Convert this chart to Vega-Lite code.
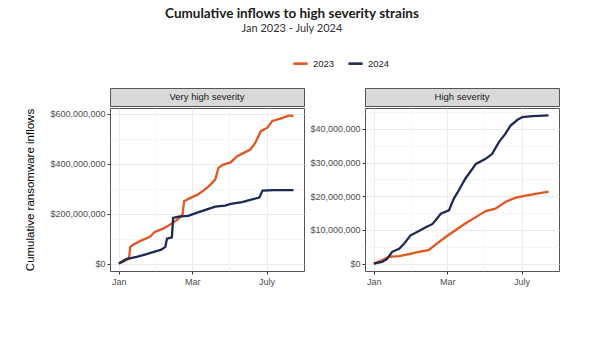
{
  "$schema": "https://vega.github.io/schema/vega-lite/v6.json",
  "padding": {"left": 24, "top": 6, "right": 5, "bottom": 5},
  "background": "white",
  "title": {
    "text": "Cumulative inflows to high severity strains",
    "subtitle": "Jan 2023 - July 2024",
    "anchor": "middle",
    "font": "Lato",
    "fontSize": 13.5,
    "fontWeight": "bold",
    "color": "#1a1a1a",
    "subtitleFont": "Lato",
    "subtitleFontSize": 11,
    "subtitleColor": "#333333",
    "subtitlePadding": 3,
    "offset": 21
  },
  "datasets": {
    "series": [
      {"panel": "Very high severity", "year": "2023", "day": 0, "value": 0},
      {"panel": "Very high severity", "year": "2023", "day": 9, "value": 13000000},
      {"panel": "Very high severity", "year": "2023", "day": 12.5, "value": 20000000},
      {"panel": "Very high severity", "year": "2023", "day": 14, "value": 67000000},
      {"panel": "Very high severity", "year": "2023", "day": 18, "value": 76000000},
      {"panel": "Very high severity", "year": "2023", "day": 26, "value": 90000000},
      {"panel": "Very high severity", "year": "2023", "day": 38, "value": 107000000},
      {"panel": "Very high severity", "year": "2023", "day": 44, "value": 127000000},
      {"panel": "Very high severity", "year": "2023", "day": 55, "value": 141000000},
      {"panel": "Very high severity", "year": "2023", "day": 65, "value": 161000000},
      {"panel": "Very high severity", "year": "2023", "day": 71, "value": 174000000},
      {"panel": "Very high severity", "year": "2023", "day": 78, "value": 195000000},
      {"panel": "Very high severity", "year": "2023", "day": 80, "value": 250000000},
      {"panel": "Very high severity", "year": "2023", "day": 87, "value": 262000000},
      {"panel": "Very high severity", "year": "2023", "day": 96, "value": 275000000},
      {"panel": "Very high severity", "year": "2023", "day": 104, "value": 293000000},
      {"panel": "Very high severity", "year": "2023", "day": 112, "value": 315000000},
      {"panel": "Very high severity", "year": "2023", "day": 118, "value": 336000000},
      {"panel": "Very high severity", "year": "2023", "day": 122, "value": 383000000},
      {"panel": "Very high severity", "year": "2023", "day": 128, "value": 396000000},
      {"panel": "Very high severity", "year": "2023", "day": 137, "value": 405000000},
      {"panel": "Very high severity", "year": "2023", "day": 145, "value": 430000000},
      {"panel": "Very high severity", "year": "2023", "day": 155, "value": 446000000},
      {"panel": "Very high severity", "year": "2023", "day": 161, "value": 456000000},
      {"panel": "Very high severity", "year": "2023", "day": 167, "value": 483000000},
      {"panel": "Very high severity", "year": "2023", "day": 174, "value": 530000000},
      {"panel": "Very high severity", "year": "2023", "day": 182, "value": 544000000},
      {"panel": "Very high severity", "year": "2023", "day": 188, "value": 571000000},
      {"panel": "Very high severity", "year": "2023", "day": 198, "value": 580000000},
      {"panel": "Very high severity", "year": "2023", "day": 209, "value": 593000000},
      {"panel": "Very high severity", "year": "2023", "day": 214, "value": 590000000},
      {"panel": "Very high severity", "year": "2024", "day": 0, "value": 0},
      {"panel": "Very high severity", "year": "2024", "day": 9, "value": 18000000},
      {"panel": "Very high severity", "year": "2024", "day": 22, "value": 27000000},
      {"panel": "Very high severity", "year": "2024", "day": 34, "value": 38000000},
      {"panel": "Very high severity", "year": "2024", "day": 46, "value": 50000000},
      {"panel": "Very high severity", "year": "2024", "day": 52, "value": 56000000},
      {"panel": "Very high severity", "year": "2024", "day": 57, "value": 67000000},
      {"panel": "Very high severity", "year": "2024", "day": 59, "value": 100000000},
      {"panel": "Very high severity", "year": "2024", "day": 65, "value": 105000000},
      {"panel": "Very high severity", "year": "2024", "day": 66.5, "value": 183000000},
      {"panel": "Very high severity", "year": "2024", "day": 73, "value": 188000000},
      {"panel": "Very high severity", "year": "2024", "day": 85, "value": 191000000},
      {"panel": "Very high severity", "year": "2024", "day": 96, "value": 204000000},
      {"panel": "Very high severity", "year": "2024", "day": 108, "value": 217000000},
      {"panel": "Very high severity", "year": "2024", "day": 118, "value": 228000000},
      {"panel": "Very high severity", "year": "2024", "day": 130, "value": 232000000},
      {"panel": "Very high severity", "year": "2024", "day": 137, "value": 239000000},
      {"panel": "Very high severity", "year": "2024", "day": 151, "value": 246000000},
      {"panel": "Very high severity", "year": "2024", "day": 161, "value": 255000000},
      {"panel": "Very high severity", "year": "2024", "day": 172, "value": 264000000},
      {"panel": "Very high severity", "year": "2024", "day": 176, "value": 292000000},
      {"panel": "Very high severity", "year": "2024", "day": 190, "value": 294000000},
      {"panel": "Very high severity", "year": "2024", "day": 214, "value": 294000000},
      {"panel": "High severity", "year": "2023", "day": 0, "value": 0},
      {"panel": "High severity", "year": "2023", "day": 10, "value": 1000000},
      {"panel": "High severity", "year": "2023", "day": 18, "value": 2000000},
      {"panel": "High severity", "year": "2023", "day": 31, "value": 2200000},
      {"panel": "High severity", "year": "2023", "day": 43, "value": 2800000},
      {"panel": "High severity", "year": "2023", "day": 55, "value": 3500000},
      {"panel": "High severity", "year": "2023", "day": 67, "value": 4000000},
      {"panel": "High severity", "year": "2023", "day": 76, "value": 5700000},
      {"panel": "High severity", "year": "2023", "day": 88, "value": 7900000},
      {"panel": "High severity", "year": "2023", "day": 100, "value": 9900000},
      {"panel": "High severity", "year": "2023", "day": 112, "value": 11900000},
      {"panel": "High severity", "year": "2023", "day": 125, "value": 13800000},
      {"panel": "High severity", "year": "2023", "day": 137, "value": 15600000},
      {"panel": "High severity", "year": "2023", "day": 149, "value": 16300000},
      {"panel": "High severity", "year": "2023", "day": 161, "value": 18300000},
      {"panel": "High severity", "year": "2023", "day": 174, "value": 19600000},
      {"panel": "High severity", "year": "2023", "day": 186, "value": 20200000},
      {"panel": "High severity", "year": "2023", "day": 198, "value": 20700000},
      {"panel": "High severity", "year": "2023", "day": 214, "value": 21400000},
      {"panel": "High severity", "year": "2024", "day": 0, "value": 0},
      {"panel": "High severity", "year": "2024", "day": 10, "value": 500000},
      {"panel": "High severity", "year": "2024", "day": 16, "value": 1300000},
      {"panel": "High severity", "year": "2024", "day": 22.5, "value": 3500000},
      {"panel": "High severity", "year": "2024", "day": 31, "value": 4400000},
      {"panel": "High severity", "year": "2024", "day": 37, "value": 5900000},
      {"panel": "High severity", "year": "2024", "day": 45, "value": 8400000},
      {"panel": "High severity", "year": "2024", "day": 53, "value": 9400000},
      {"panel": "High severity", "year": "2024", "day": 63, "value": 10700000},
      {"panel": "High severity", "year": "2024", "day": 71.5, "value": 11700000},
      {"panel": "High severity", "year": "2024", "day": 75.5, "value": 12800000},
      {"panel": "High severity", "year": "2024", "day": 82, "value": 14800000},
      {"panel": "High severity", "year": "2024", "day": 92, "value": 15800000},
      {"panel": "High severity", "year": "2024", "day": 98, "value": 19300000},
      {"panel": "High severity", "year": "2024", "day": 104, "value": 21700000},
      {"panel": "High severity", "year": "2024", "day": 112, "value": 25200000},
      {"panel": "High severity", "year": "2024", "day": 118, "value": 27200000},
      {"panel": "High severity", "year": "2024", "day": 125, "value": 29600000},
      {"panel": "High severity", "year": "2024", "day": 137, "value": 31100000},
      {"panel": "High severity", "year": "2024", "day": 145, "value": 32600000},
      {"panel": "High severity", "year": "2024", "day": 153, "value": 36000000},
      {"panel": "High severity", "year": "2024", "day": 161, "value": 38500000},
      {"panel": "High severity", "year": "2024", "day": 167.5, "value": 41000000},
      {"panel": "High severity", "year": "2024", "day": 176, "value": 42700000},
      {"panel": "High severity", "year": "2024", "day": 182, "value": 43500000},
      {"panel": "High severity", "year": "2024", "day": 194, "value": 43800000},
      {"panel": "High severity", "year": "2024", "day": 214, "value": 44000000}
    ],
    "strips": [
      {"panel": "Very high severity"},
      {"panel": "High severity"}
    ]
  },
  "spacing": 4,
  "hconcat": [
    {
      "spacing": 0,
      "vconcat": [
        {
          "width": 194,
          "height": 18,
          "data": {"name": "strips"},
          "transform": [{"filter": "datum.panel == 'Very high severity'"}],
          "view": {"fill": "#d9d9d9", "stroke": "#555555", "strokeWidth": 1},
          "mark": {"type": "text", "font": "Liberation Sans", "fontSize": 9.5, "color": "#1a1a1a"},
          "encoding": {"text": {"field": "panel"}}
        },
        {
          "width": 194,
          "height": 163,
          "data": {"name": "series"},
          "transform": [{"filter": "datum.panel == 'Very high severity'"}],
          "view": {"stroke": "#555555", "strokeWidth": 1},
          "mark": {"type": "line", "strokeWidth": 2.3, "clip": true},
          "encoding": {
            "x": {
              "field": "day", "type": "quantitative",
              "scale": {"domain": [-10.8, 226.8], "nice": false, "zero": false},
              "axis": {
                "title": null,
                "values": [0, 45, 90, 135.5, 181],
                "labelExpr": "datum.value == 0 ? 'Jan' : datum.value == 90 ? 'Mar' : datum.value == 181 ? 'July' : ''",
                "gridWidth": {"condition": {"test": "datum.value == 45 || datum.value == 135.5", "value": 0.5}, "value": 1},
                "tickOpacity": {"condition": {"test": "datum.value == 45 || datum.value == 135.5", "value": 0}, "value": 1}
              }
            },
            "y": {
              "field": "value", "type": "quantitative",
              "scale": {"domain": [-29600000, 622600000], "nice": false, "zero": false},
              "axis": {
                "title": "Cumulative ransomware inflows",
                "values": [0, 100000000, 200000000, 300000000, 400000000, 500000000, 600000000],
                "labelExpr": "datum.value % 200000000 == 0 ? format(datum.value, '$,.0f') : ''",
                "gridWidth": {"condition": {"test": "datum.value % 200000000 != 0", "value": 0.5}, "value": 1},
                "tickOpacity": {"condition": {"test": "datum.value % 200000000 != 0", "value": 0}, "value": 1},
                "titleFontSize": 11.5,
                "titleColor": "#000000",
                "titleFontWeight": "normal",
                "titlePadding": 14
              }
            },
            "color": {
              "field": "year", "type": "nominal",
              "scale": {"domain": ["2023", "2024"], "range": ["#e2561f", "#1b2b55"]},
              "legend": {
                "title": null,
                "orient": "none",
                "direction": "horizontal",
                "legendX": 182,
                "legendY": -33,
                "symbolType": "stroke",
                "symbolSize": 200,
                "symbolStrokeWidth": 2.6,
                "labelFont": "Liberation Sans",
                "labelFontSize": 9.5,
                "labelColor": "#1a1a1a",
                "columnPadding": 8
              }
            }
          }
        }
      ]
    },
    {
      "spacing": 0,
      "vconcat": [
        {
          "width": 194,
          "height": 18,
          "data": {"name": "strips"},
          "transform": [{"filter": "datum.panel == 'High severity'"}],
          "view": {"fill": "#d9d9d9", "stroke": "#555555", "strokeWidth": 1},
          "mark": {"type": "text", "font": "Liberation Sans", "fontSize": 9.5, "color": "#1a1a1a"},
          "encoding": {"text": {"field": "panel"}}
        },
        {
          "width": 194,
          "height": 163,
          "data": {"name": "series"},
          "transform": [{"filter": "datum.panel == 'High severity'"}],
          "view": {"stroke": "#555555", "strokeWidth": 1},
          "mark": {"type": "line", "strokeWidth": 2.3, "clip": true},
          "encoding": {
            "x": {
              "field": "day", "type": "quantitative",
              "scale": {"domain": [-10.8, 226.8], "nice": false, "zero": false},
              "axis": {
                "title": null,
                "values": [0, 45, 90, 135.5, 181],
                "labelExpr": "datum.value == 0 ? 'Jan' : datum.value == 90 ? 'Mar' : datum.value == 181 ? 'July' : ''",
                "gridWidth": {"condition": {"test": "datum.value == 45 || datum.value == 135.5", "value": 0.5}, "value": 1},
                "tickOpacity": {"condition": {"test": "datum.value == 45 || datum.value == 135.5", "value": 0}, "value": 1}
              }
            },
            "y": {
              "field": "value", "type": "quantitative",
              "scale": {"domain": [-2200000, 46200000], "nice": false, "zero": false},
              "axis": {
                "title": null,
                "values": [0, 5000000, 10000000, 15000000, 20000000, 25000000, 30000000, 35000000, 40000000, 45000000],
                "labelExpr": "datum.value % 10000000 == 0 ? format(datum.value, '$,.0f') : ''",
                "gridWidth": {"condition": {"test": "datum.value % 10000000 != 0", "value": 0.5}, "value": 1},
                "tickOpacity": {"condition": {"test": "datum.value % 10000000 != 0", "value": 0}, "value": 1}
              }
            },
            "color": {
              "field": "year", "type": "nominal",
              "scale": {"domain": ["2023", "2024"], "range": ["#e2561f", "#1b2b55"]}
            }
          }
        }
      ]
    }
  ],
  "resolve": {"scale": {"color": "shared"}, "legend": {"color": "shared"}},
  "config": {
    "font": "Liberation Sans",
    "axis": {
      "domain": false,
      "grid": true,
      "gridColor": "#ebebeb",
      "tickColor": "#333333",
      "tickSize": 3,
      "labelFont": "Liberation Sans",
      "labelFontSize": 9,
      "labelColor": "#4d4d4d",
      "labelPadding": 2,
      "titleFont": "Liberation Sans"
    },
    "axisX": {"labelPadding": 3}
  }
}
